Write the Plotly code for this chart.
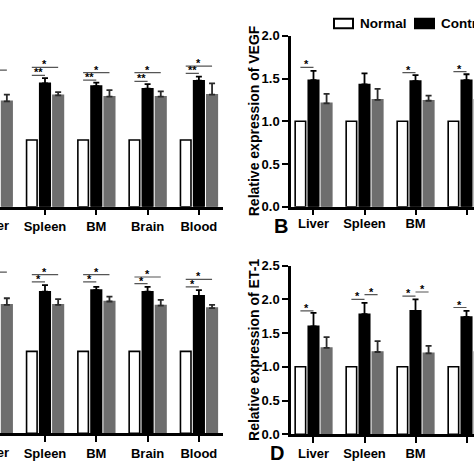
import plotly.graph_objects as go

W = H = 474
FONT = "Arial, Liberation Sans, sans-serif"
GREY = "#6e6e6e"

tissues = ["Liver", "Spleen", "BM", "Brain", "Blood"]
group_names = ["Normal", "Control", "Treated"]

# ---- Panel A (y axis off-page) ----
a_normal = [1.0, 1.0, 1.0, 1.0, 1.0]
a_control = [1.80, 1.85, 1.81, 1.77, 1.89]
a_control_err = [0.08, 0.08, 0.05, 0.07, 0.06]
a_treat = [1.58, 1.67, 1.65, 1.65, 1.68]
a_treat_err = [0.10, 0.05, 0.10, 0.08, 0.17]
a_sig_tissue = [0, 1, 1, 2, 2, 3, 3, 4, 4]
a_sig_to = [2, 1, 2, 1, 2, 1, 2, 1, 2]
a_sig_y = [2.05, 1.97, 2.09, 1.90, 2.01, 1.88, 2.01, 2.00, 2.11]
a_sig_text = ["*", "**", "*", "**", "*", "**", "*", "**", "*"]

# ---- Panel B (VEGF) ----
b_tissues = ["Liver", "Spleen", "BM", "Brain"]
b_normal = [1.0, 1.0, 1.0, 1.0]
b_control = [1.48, 1.43, 1.47, 1.48]
b_control_err = [0.11, 0.13, 0.07, 0.07]
b_treat = [1.21, 1.25, 1.24, 1.25]
b_treat_err = [0.11, 0.13, 0.06, 0.08]
b_sig_tissue = [0, 2, 3]
b_sig_to = [1, 1, 1]
b_sig_y = [1.63, 1.57, 1.58]
b_sig_text = ["*", "*", "*"]

# ---- Panel C (y axis off-page) ----
c_normal = [1.0, 1.0, 1.0, 1.0, 1.0]
c_control = [1.75, 1.73, 1.75, 1.73, 1.68]
c_control_err = [0.07, 0.08, 0.04, 0.06, 0.07]
c_treat = [1.57, 1.57, 1.61, 1.56, 1.53]
c_treat_err = [0.08, 0.07, 0.06, 0.07, 0.04]
c_sig_tissue = [0, 1, 1, 2, 2, 3, 3, 4, 4]
c_sig_to = [2, 1, 2, 1, 2, 1, 2, 1, 2]
c_sig_y = [1.97, 1.85, 1.94, 1.85, 1.94, 1.83, 1.91, 1.79, 1.88]
c_sig_text = ["*"] * 9

# ---- Panel D (ET-1) ----
d_tissues = ["Liver", "Spleen", "BM", "Brain"]
d_normal = [1.0, 1.0, 1.0, 1.0]
d_control = [1.60, 1.78, 1.83, 1.74]
d_control_err = [0.20, 0.17, 0.17, 0.09]
d_treat = [1.28, 1.22, 1.20, 1.22]
d_treat_err = [0.16, 0.16, 0.11, 0.10]
d_sig_tissue = [0, 1, 1, 2, 2, 3]
d_sig_from = [0, 0, 1, 0, 1, 0]
d_sig_to = [1, 1, 2, 1, 2, 1]
d_sig_y = [1.83, 2.00, 2.07, 2.05, 2.11, 1.88]
d_sig_text = ["*"] * 6

BARGAP = 0.23
SLOT = (1 - BARGAP) / 3

# the screenshot maps page y to picture y as  y_pic = 0.9686 * y_page + 6.2
V_SCALE, V_OFF = 0.9686, 6.2


def px_x(p):
    return p / W


def px_y(p_pic):
    p = (p_pic - V_OFF) / V_SCALE
    return 1 - p / H


panels = {
    "A": dict(xd=[0, 223], yd=[206, 39.25], xr=[0.123, 4.47], yr=[0, 2.5], standoff=0),
    "B": dict(xd=[291, 474], yd=[206, 35], xr=[-0.441, 3.147], yr=[0, 2.0], standoff=-3),
    "C": dict(xd=[0, 223], yd=[432.5, 228], xr=[0.123, 4.47], yr=[0, 2.5], standoff=0),
    "D": dict(xd=[291, 474], yd=[433.5, 265], xr=[-0.441, 3.147], yr=[0, 2.5], standoff=-1),
}
axis_ids = {"A": ("x", "y"), "B": ("x2", "y2"), "C": ("x3", "y3"), "D": ("x4", "y4")}

fig = go.Figure()

panel_data = {
    "A": (tissues, a_normal, a_control, a_control_err, a_treat, a_treat_err),
    "B": (b_tissues, b_normal, b_control, b_control_err, b_treat, b_treat_err),
    "C": (tissues, c_normal, c_control, c_control_err, c_treat, c_treat_err),
    "D": (d_tissues, d_normal, d_control, d_control_err, d_treat, d_treat_err),
}

for name, (tis, nv, cv, ce, tv, te) in panel_data.items():
    xa, ya = axis_ids[name]
    xs = list(range(len(tis)))
    fig.add_trace(go.Bar(x=xs, y=nv, name=group_names[0], xaxis=xa, yaxis=ya,
                         offsetgroup="n", marker=dict(color="white", line=dict(color="black", width=1.6)),
                         showlegend=False))
    fig.add_trace(go.Bar(x=xs, y=cv, name=group_names[1], xaxis=xa, yaxis=ya,
                         offsetgroup="c", marker=dict(color="black", line=dict(color="black", width=1.6)),
                         error_y=dict(type="data", array=ce, arrayminus=[0] * len(ce), symmetric=False,
                                      color="black", thickness=1.8, width=3),
                         showlegend=False))
    fig.add_trace(go.Bar(x=xs, y=tv, name=group_names[2], xaxis=xa, yaxis=ya,
                         offsetgroup="t", marker=dict(color=GREY, line=dict(color=GREY, width=1.6)),
                         error_y=dict(type="data", array=te, arrayminus=[0] * len(te), symmetric=False,
                                      color="#2a2a2a", thickness=1.8, width=3),
                         showlegend=False))

shapes = []
annotations = []


def add_sig(name, tis_idx, frm, to, ys, texts):
    xa, ya = axis_ids[name]
    for t, f, g, yv, txt in zip(tis_idx, frm, to, ys, texts):
        x0 = t + (f - 1) * SLOT
        x1 = t + (g - 1) * SLOT
        shapes.append(dict(type="line", xref=xa, yref=ya, x0=x0, x1=x1, y0=yv, y1=yv,
                           line=dict(color="#555555", width=1.2)))
        annotations.append(dict(xref=xa, yref=ya, x=(x0 + x1) / 2, y=yv, text=txt, showarrow=False,
                                yanchor="bottom", yshift=-5,
                                font=dict(family=FONT, size=11, color="black", weight="bold")))


add_sig("A", a_sig_tissue, [0] * len(a_sig_tissue), a_sig_to, a_sig_y, a_sig_text)
add_sig("B", b_sig_tissue, [0] * len(b_sig_tissue), b_sig_to, b_sig_y, b_sig_text)
add_sig("C", c_sig_tissue, [0] * len(c_sig_tissue), c_sig_to, c_sig_y, c_sig_text)
add_sig("D", d_sig_tissue, d_sig_from, d_sig_to, d_sig_y, d_sig_text)

tickfont = dict(family=FONT, size=13, color="black", weight="bold")
layout_axes = {}
for name, g in panels.items():
    xa, ya = axis_ids[name]
    xkey = "xaxis" + xa[1:]
    ykey = "yaxis" + ya[1:]
    tis = panel_data[name][0]
    layout_axes[xkey] = dict(domain=[px_x(g["xd"][0]), px_x(g["xd"][1])], range=g["xr"], anchor=ya,
                             tickvals=list(range(len(tis))), ticktext=tis, showline=True, linecolor="black",
                             linewidth=2.5, ticks="outside", ticklen=6, tickwidth=2, tickcolor="black",
                             tickfont=tickfont, showgrid=False, zeroline=False, fixedrange=True,
                             ticklabelstandoff=g["standoff"])
    show_y = name in ("B", "D")
    layout_axes[ykey] = dict(domain=[px_y(g["yd"][0]), px_y(g["yd"][1])], range=g["yr"], anchor=xa,
                             showline=show_y, linecolor="black", linewidth=2.5,
                             ticks="outside" if show_y else "", ticklen=6, tickwidth=2, tickcolor="black",
                             showticklabels=show_y, tickformat=".1f", dtick=0.5,
                             tickfont=tickfont, showgrid=False, zeroline=False, fixedrange=True)

# partially visible "Liver" labels of panels A and C (tick lies off-page)
for name, ylab in (("A", 225), ("C", 452)):
    g = panels[name]
    d0, d1 = px_x(g["xd"][0]), px_x(g["xd"][1])
    r0, r1 = g["xr"]
    xp = d0 + (0 - r0) / (r1 - r0) * (d1 - d0)
    annotations.append(dict(xref="paper", yref="paper", x=xp, y=px_y(ylab), text=tissues[0],
                            showarrow=False, xanchor="center", yanchor="middle",
                            font=tickfont))

# y-axis titles
for name, txt in (("B", "Relative expression of VEGF"), ("D", "Relative expression of ET-1")):
    g = panels[name]
    annotations.append(dict(xref="paper", yref="paper", x=px_x(254),
                            y=px_y((g["yd"][0] + g["yd"][1]) / 2), text=txt, textangle=-90,
                            showarrow=False, xanchor="center", yanchor="middle",
                            font=dict(family=FONT, size=14, color="black", weight="bold")))

# panel letters
for txt, (lx, ly) in (("B", (281, 225)), ("D", (277, 452.5))):
    annotations.append(dict(xref="paper", yref="paper", x=px_x(lx), y=px_y(ly), text=txt,
                            showarrow=False, xanchor="center", yanchor="middle",
                            font=dict(family=FONT, size=20, color="black", weight="bold")))

# legend (drawn manually; third entry lies off-page)
legend_items = [(group_names[0], "white", 334), (group_names[1], "black", 415)]
for lbl, col, lx in legend_items:
    shapes.append(dict(type="rect", xref="paper", yref="paper", x0=px_x(lx), x1=px_x(lx + 19),
                       y0=px_y(27.5), y1=px_y(18), fillcolor=col, line=dict(color="black", width=2)))
    annotations.append(dict(xref="paper", yref="paper", x=px_x(lx + 24), y=px_y(22.5), text=lbl,
                            showarrow=False, xanchor="left", yanchor="middle",
                            font=dict(family=FONT, size=13.5, color="black", weight="bold")))

fig.update_layout(width=W, height=H, margin=dict(l=0, r=0, t=0, b=0), autosize=False,
                  paper_bgcolor="white", plot_bgcolor="white", barmode="group",
                  bargap=BARGAP, bargroupgap=0.2, showlegend=False,
                  shapes=shapes, annotations=annotations, **layout_axes)

fig.write_html("out.html", config={"displayModeBar": False},
               post_script="document.body.style.margin='0';document.body.style.padding='0';"
                           "document.body.style.overflow='hidden';")
